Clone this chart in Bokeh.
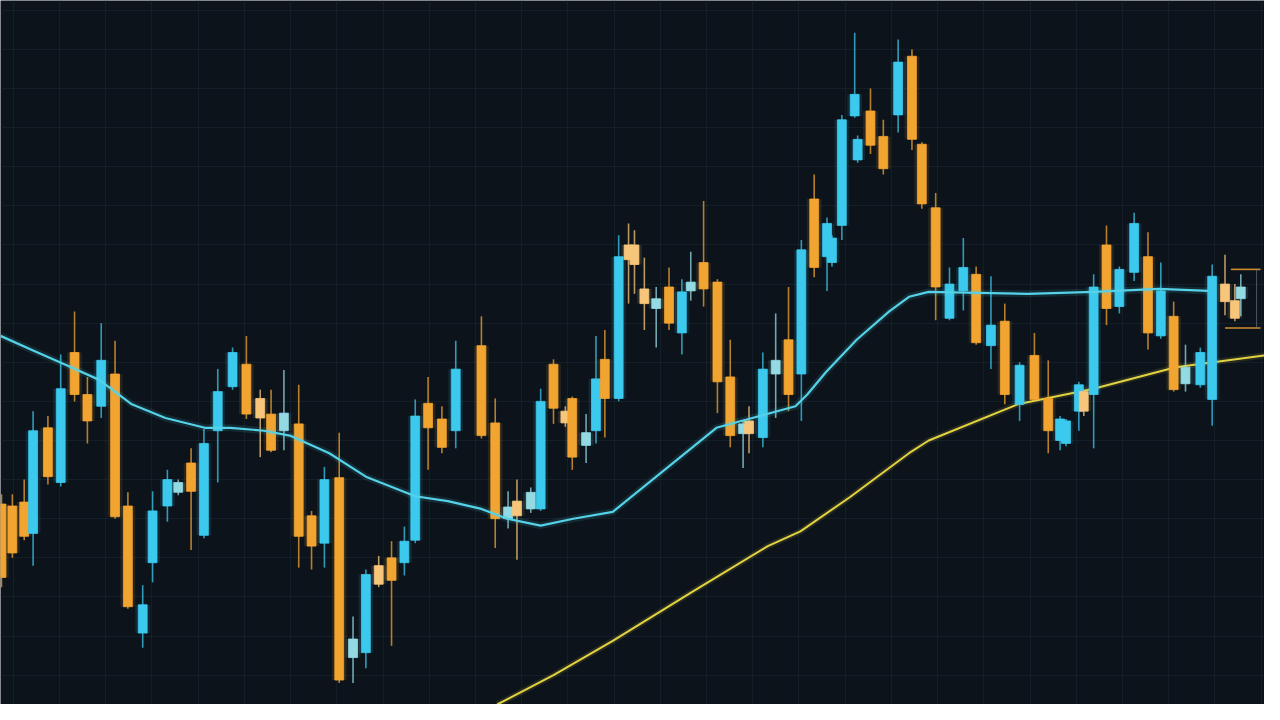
from bokeh.plotting import figure
from bokeh.models import Range1d, Grid, FixedTicker, ColumnDataSource
from bokeh.embed import file_html
from bokeh.resources import INLINE
import numpy as np

# ---- data (time position, OHLC prices) ----
t = [1, 12, 24, 33, 48, 61, 75, 88, 102, 116, 129, 144, 154, 169, 180, 193, 206, 220, 235, 249,
     263, 274, 287, 302, 315, 328, 343, 357, 370, 383, 396, 409, 420, 433, 447, 461, 487, 501, 514, 523,
     537, 547, 560, 572, 579, 593, 603, 612, 626, 636, 642, 652, 664, 677, 690, 699, 712, 726, 739, 752,
     758, 772, 785, 798, 811, 824, 837, 842, 852, 865, 868, 881, 894, 909, 923, 933, 947, 961, 975, 988,
     1003, 1017, 1032, 1047, 1061, 1073, 1079, 1092, 1097, 1107, 1120, 1133, 1148, 1162, 1175, 1188, 1200, 1215, 1227, 1240,
     1250, 1256]
open_ = [205, 203, 207, 175, 283, 227, 360, 317, 305, 338, 203, 73, 145, 203, 217, 247, 173, 280, 325, 348,
         313, 297, 280, 287, 193, 165, 232, 48, 53, 142, 150, 145, 168, 308, 292, 280, 367, 288, 190, 208,
         200, 200, 348, 300, 313, 265, 280, 353, 313, 470, 470, 425, 405, 427, 380, 423, 452, 432, 335, 277,
         290, 273, 338, 373, 338, 517, 458, 452, 490, 602, 557, 607, 581, 603, 663, 573, 508, 395, 423, 440,
         367, 392, 307, 357, 313, 270, 267, 300, 320, 317, 470, 407, 442, 458, 377, 397, 328, 327, 312, 430,
         413, 415]
high = [215, 215, 230, 300, 295, 358, 402, 335, 390, 372, 217, 122, 218, 240, 230, 262, 282, 343, 365, 377,
        322, 322, 342, 327, 198, 243, 278, 90, 138, 152, 167, 182, 312, 335, 305, 372, 397, 313, 218, 230,
        222, 323, 353, 305, 315, 297, 377, 383, 480, 492, 485, 457, 427, 447, 435, 463, 515, 435, 373, 290,
        305, 360, 400, 427, 475, 542, 498, 480, 603, 687, 582, 630, 598, 680, 670, 575, 523, 447, 477, 448,
        438, 410, 350, 380, 352, 295, 292, 330, 322, 440, 490, 448, 503, 483, 452, 412, 368, 365, 450, 460,
        430, 440]
low = [120, 150, 168, 142, 225, 223, 310, 267, 293, 190, 98, 58, 125, 187, 214, 158, 170, 227, 322, 292,
       253, 258, 260, 140, 138, 140, 22, 22, 37, 120, 60, 132, 165, 240, 257, 262, 272, 160, 180, 148,
       196, 198, 287, 284, 240, 247, 267, 273, 310, 410, 420, 383, 365, 383, 358, 413, 407, 298, 263, 242,
       257, 263, 293, 300, 290, 437, 423, 448, 475, 600, 554, 563, 542, 585, 567, 507, 393, 393, 403, 368,
       343, 307, 290, 310, 257, 260, 264, 280, 295, 262, 388, 400, 433, 363, 374, 320, 320, 324, 285, 398,
       392, 397]
close = [130, 155, 172, 280, 233, 323, 317, 290, 352, 192, 100, 102, 198, 230, 227, 218, 267, 320, 360, 297,
         293, 260, 298, 172, 162, 230, 25, 67, 133, 123, 127, 167, 295, 283, 263, 343, 275, 190, 202, 193,
         217, 310, 303, 288, 253, 278, 333, 313, 458, 455, 450, 410, 415, 390, 422, 432, 425, 330, 275, 287,
         277, 343, 352, 317, 465, 447, 492, 477, 598, 624, 578, 572, 548, 657, 578, 512, 427, 430, 447, 370,
         388, 317, 347, 312, 280, 292, 290, 327, 300, 427, 405, 445, 492, 380, 423, 322, 345, 360, 438, 412,
         395, 427]

# moving averages
ma_fast_t = [0, 33, 67, 100, 133, 167, 207, 233, 267, 293, 333, 370, 420, 453, 487, 513, 547, 580, 620, 725,
             750, 805, 817, 836, 867, 900, 920, 940, 1040, 1107, 1173, 1223]
ma_fast = [377, 362, 347, 332, 307, 293, 283, 283, 280, 275, 257, 233, 213, 208, 200, 190, 183, 190, 197, 283,
           290, 305, 317, 340, 373, 402, 417, 422, 420, 422, 425, 423]
ma_slow_t = [503, 560, 620, 700, 777, 810, 860, 920, 940, 1030, 1107, 1190, 1280]
ma_slow = [0, 30, 65, 115, 162, 177, 212, 257, 270, 307, 323, 345, 357]

# bracket marker at the last candles
bracket_x0 = [1246, 1240]
bracket_x1 = [1276, 1276]
bracket_y = [445, 385]

# ---- styling ----
BG = "#0c131b"
CYAN = "#3cc9ee"
ORANGE = "#f2a431"


def blend(hex_color, amt):
    h = hex_color.lstrip("#")
    r, g, b = (int(h[i:i + 2], 16) for i in (0, 2, 4))
    r = int(r + (255 - r) * amt)
    g = int(g + (240 - g) * amt)
    b = int(b + (215 - b) * amt)
    return "#%02x%02x%02x" % (r, g, b)


o = np.array(open_, dtype=float)
c = np.array(close, dtype=float)
up = c > o
body_col = []
for is_up, oo, cc in zip(up, o, c):
    base = CYAN if is_up else ORANGE
    if abs(cc - oo) <= 20:
        base = blend(base, 0.45)
    body_col.append(base)

src = ColumnDataSource(dict(
    t=t, top=np.maximum(o, c), bottom=np.minimum(o, c), high=high, low=low, color=body_col,
))

p = figure(width=1264, height=704, output_backend="svg", toolbar_location=None,
           x_axis_location=None, y_axis_location=None,
           x_range=Range1d(0, 1280), y_range=Range1d(0, 720),
           background_fill_color=BG, border_fill_color=BG, min_border=0,
           outline_line_color=None)
p.grid.visible = False
p.xgrid.grid_line_color = None
p.ygrid.grid_line_color = None

gx = Grid(dimension=0, ticker=FixedTicker(ticks=list(np.arange(13, 1280, 46.8))),
          grid_line_color="#1c2935", grid_line_alpha=0.5, grid_line_width=1.2)
gy = Grid(dimension=1, ticker=FixedTicker(ticks=list(np.arange(30, 720, 40))),
          grid_line_color="#1c2935", grid_line_alpha=0.5, grid_line_width=1.2)
p.add_layout(gx)
p.add_layout(gy)

# slow MA (yellow)
p.line(ma_slow_t, ma_slow, line_color="#e3d343", line_width=6, line_alpha=0.12, line_join="round")
p.line(ma_slow_t, ma_slow, line_color="#e3d343", line_width=2, line_join="round")

# candles: glow, wick, body
p.vbar(x="t", top="top", bottom="bottom", width=15, fill_color="color", fill_alpha=0.12,
       line_color=None, source=src)
p.segment(x0="t", y0="high", x1="t", y1="low", line_color="color", line_width=1.6,
          line_alpha=0.75, source=src)
p.vbar(x="t", top="top", bottom="bottom", width=9, fill_color="color", line_color="color",
       line_width=0.8, source=src)

# fast MA (cyan)
p.line(ma_fast_t, ma_fast, line_color="#4fd3ea", line_width=7, line_alpha=0.12, line_join="round")
p.line(ma_fast_t, ma_fast, line_color="#55d2e8", line_width=2.2, line_join="round")

# bracket
p.segment(x0=bracket_x0, y0=bracket_y, x1=bracket_x1, y1=bracket_y, line_color=ORANGE,
          line_width=1.6, line_alpha=0.85)
p.segment(x0=[1272], y0=[bracket_y[0]], x1=[1272], y1=[bracket_y[1]], line_color="#7a8590",
          line_width=1, line_alpha=0.6)

open("out.html", "w").write(file_html(p, INLINE))
